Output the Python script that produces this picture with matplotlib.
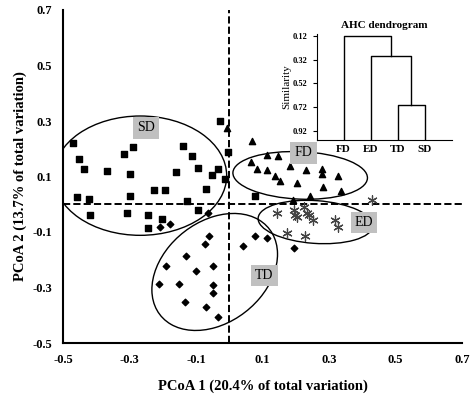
import matplotlib
matplotlib.use("Agg")
import matplotlib.pyplot as plt
from matplotlib.patches import Ellipse

plt.rcParams["font.family"] = ["Liberation Serif", "DejaVu Serif"]
plt.rcParams["font.weight"] = "bold"

# PCoA scores per group
sd_x = [-0.471, -0.452, -0.436, -0.369, -0.298, -0.317, -0.289, -0.140, -0.113, -0.095,
        -0.159, -0.051, -0.033, -0.070, -0.028, -0.005, -0.013, -0.457, -0.423, -0.419,
        -0.298, -0.228, -0.193, -0.308, -0.246, -0.246, -0.203, -0.128, -0.094, 0.078]
sd_y = [0.222, 0.162, 0.126, 0.119, 0.110, 0.180, 0.205, 0.211, 0.175, 0.131,
        0.116, 0.107, 0.126, 0.056, 0.301, 0.187, 0.090, 0.026, 0.018, -0.039,
        0.030, 0.050, 0.053, -0.033, -0.038, -0.087, -0.053, 0.013, -0.020, 0.030]
fd_x = [0.069, 0.064, 0.114, 0.146, 0.083, 0.113, 0.138, 0.153, 0.181, 0.203,
        0.231, 0.278, 0.278, 0.328, 0.283, 0.335, 0.243, 0.190, -0.008]
fd_y = [0.228, 0.153, 0.176, 0.174, 0.127, 0.124, 0.103, 0.085, 0.137, 0.075,
        0.124, 0.128, 0.109, 0.102, 0.061, 0.049, 0.031, 0.015, 0.274]
ed_x = [0.143, 0.193, 0.203, 0.223, 0.233, 0.253, 0.318, 0.326, 0.173, 0.228,
        0.428, 0.198, 0.241]
ed_y = [-0.030, -0.021, -0.045, -0.009, -0.033, -0.057, -0.057, -0.081, -0.105, -0.114,
        0.015, -0.039, -0.039]
td_x = [-0.208, -0.178, -0.060, -0.072, -0.131, -0.190, -0.099, -0.050, -0.211, -0.150,
        -0.048, -0.048, -0.133, -0.070, -0.035, 0.078, 0.113, 0.042, 0.195, -0.063]
td_y = [-0.081, -0.071, -0.114, -0.142, -0.188, -0.221, -0.241, -0.221, -0.287, -0.287,
        -0.292, -0.321, -0.351, -0.371, -0.406, -0.114, -0.120, -0.149, -0.157, -0.030]

# group ellipses: centre x, centre y, width, height, angle
ellipses = {
    "SD": (-0.268, 0.103, 0.52, 0.43, 0),
    "FD": (0.213, 0.104, 0.405, 0.171, -3),
    "ED": (0.259, -0.064, 0.346, 0.154, -5),
    "TD": (-0.044, -0.244, 0.46, 0.33, 55),
}
label_pos = {"SD": (-0.25, 0.275), "FD": (0.223, 0.185), "ED": (0.405, -0.066), "TD": (0.105, -0.257)}

# dendrogram
dendro_leaves = ["FD", "ED", "TD", "SD"]
dendro_heights = [0.70, 0.29, 0.12]  # TD-SD, ED-(TD,SD), FD-rest
dendro_ticks = [0.12, 0.32, 0.52, 0.72, 0.92]

fig = plt.figure(figsize=(4.74, 4.0), dpi=100)
ax = fig.add_axes([0.133, 0.1425, 0.842, 0.8325])

ax.scatter(sd_x, sd_y, marker="s", s=20, color="black", zorder=3)
ax.scatter(fd_x, fd_y, marker="^", s=20, color="black", zorder=3)
ax.scatter(ed_x, ed_y, marker=(6, 2, 0), s=45, color="#444444", linewidths=0.9, zorder=3)
ax.scatter(td_x, td_y, marker="D", s=11, color="black", zorder=3)

for name, (cx, cy, w, h, ang) in ellipses.items():
    ax.add_patch(Ellipse((cx, cy), w, h, angle=ang, fill=False, edgecolor="black", lw=1.0, zorder=2))
    lx, ly = label_pos[name]
    ax.text(lx, ly, name, ha="center", va="center", fontsize=10, fontweight="normal",
            bbox=dict(boxstyle="square,pad=0.3", facecolor="#c0c0c0", edgecolor="none"), zorder=4)

ax.axvline(0, color="black", ls="--", lw=1.4, zorder=1)
ax.axhline(0, color="black", ls="--", lw=1.4, zorder=1)

ax.set_xlim(-0.5, 0.7)
ax.set_ylim(-0.5, 0.7)
ticks = [-0.5, -0.3, -0.1, 0.1, 0.3, 0.5, 0.7]
ax.set_xticks(ticks)
ax.set_yticks(ticks)
ax.set_xticklabels([f"{t:g}" for t in ticks], fontsize=9, fontweight="bold")
ax.set_yticklabels([f"{t:g}" for t in ticks], fontsize=9, fontweight="bold")
ax.tick_params(length=0, pad=8)
for s in ["top", "right"]:
    ax.spines[s].set_visible(False)
for s in ["left", "bottom"]:
    ax.spines[s].set_linewidth(1.5)
ax.set_xlabel("PCoA 1 (20.4% of total variation)", fontsize=10.5, fontweight="bold", labelpad=10)
ax.set_ylabel("PCoA 2 (13.7% of total variation)", fontsize=10.5, fontweight="bold", labelpad=4)

# inset dendrogram
ins = fig.add_axes([0.668, 0.65, 0.285, 0.265])
pos = [1, 2, 3, 4]
h1, h2, h3 = dendro_heights
ins.plot([3, 3, 4, 4], [1.0, h1, h1, 1.0], color="black", lw=1)
ins.plot([2, 2, 3.5, 3.5], [1.0, h2, h2, h1], color="black", lw=1)
ins.plot([1, 1, 2.75, 2.75], [1.0, h3, h3, h2], color="black", lw=1)
ins.set_xlim(0, 5)
ins.set_ylim(1.0, 0.1)
ins.set_xticks(pos)
ins.set_xticklabels(dendro_leaves, fontsize=8, fontweight="bold")
ins.set_yticks(dendro_ticks)
ins.set_yticklabels([f"{t:.2f}" for t in dendro_ticks], fontsize=6, fontweight="bold")
ins.tick_params(axis="x", length=0)
ins.tick_params(axis="y", length=3)
ins.patch.set_alpha(0)
for s in ["top", "right"]:
    ins.spines[s].set_visible(False)
ins.set_ylabel("Similarity", fontsize=8, fontweight="normal", labelpad=1)
ins.set_title("AHC dendrogram", fontsize=8, fontweight="bold", pad=4)

fig.savefig("out.png", dpi=100)
